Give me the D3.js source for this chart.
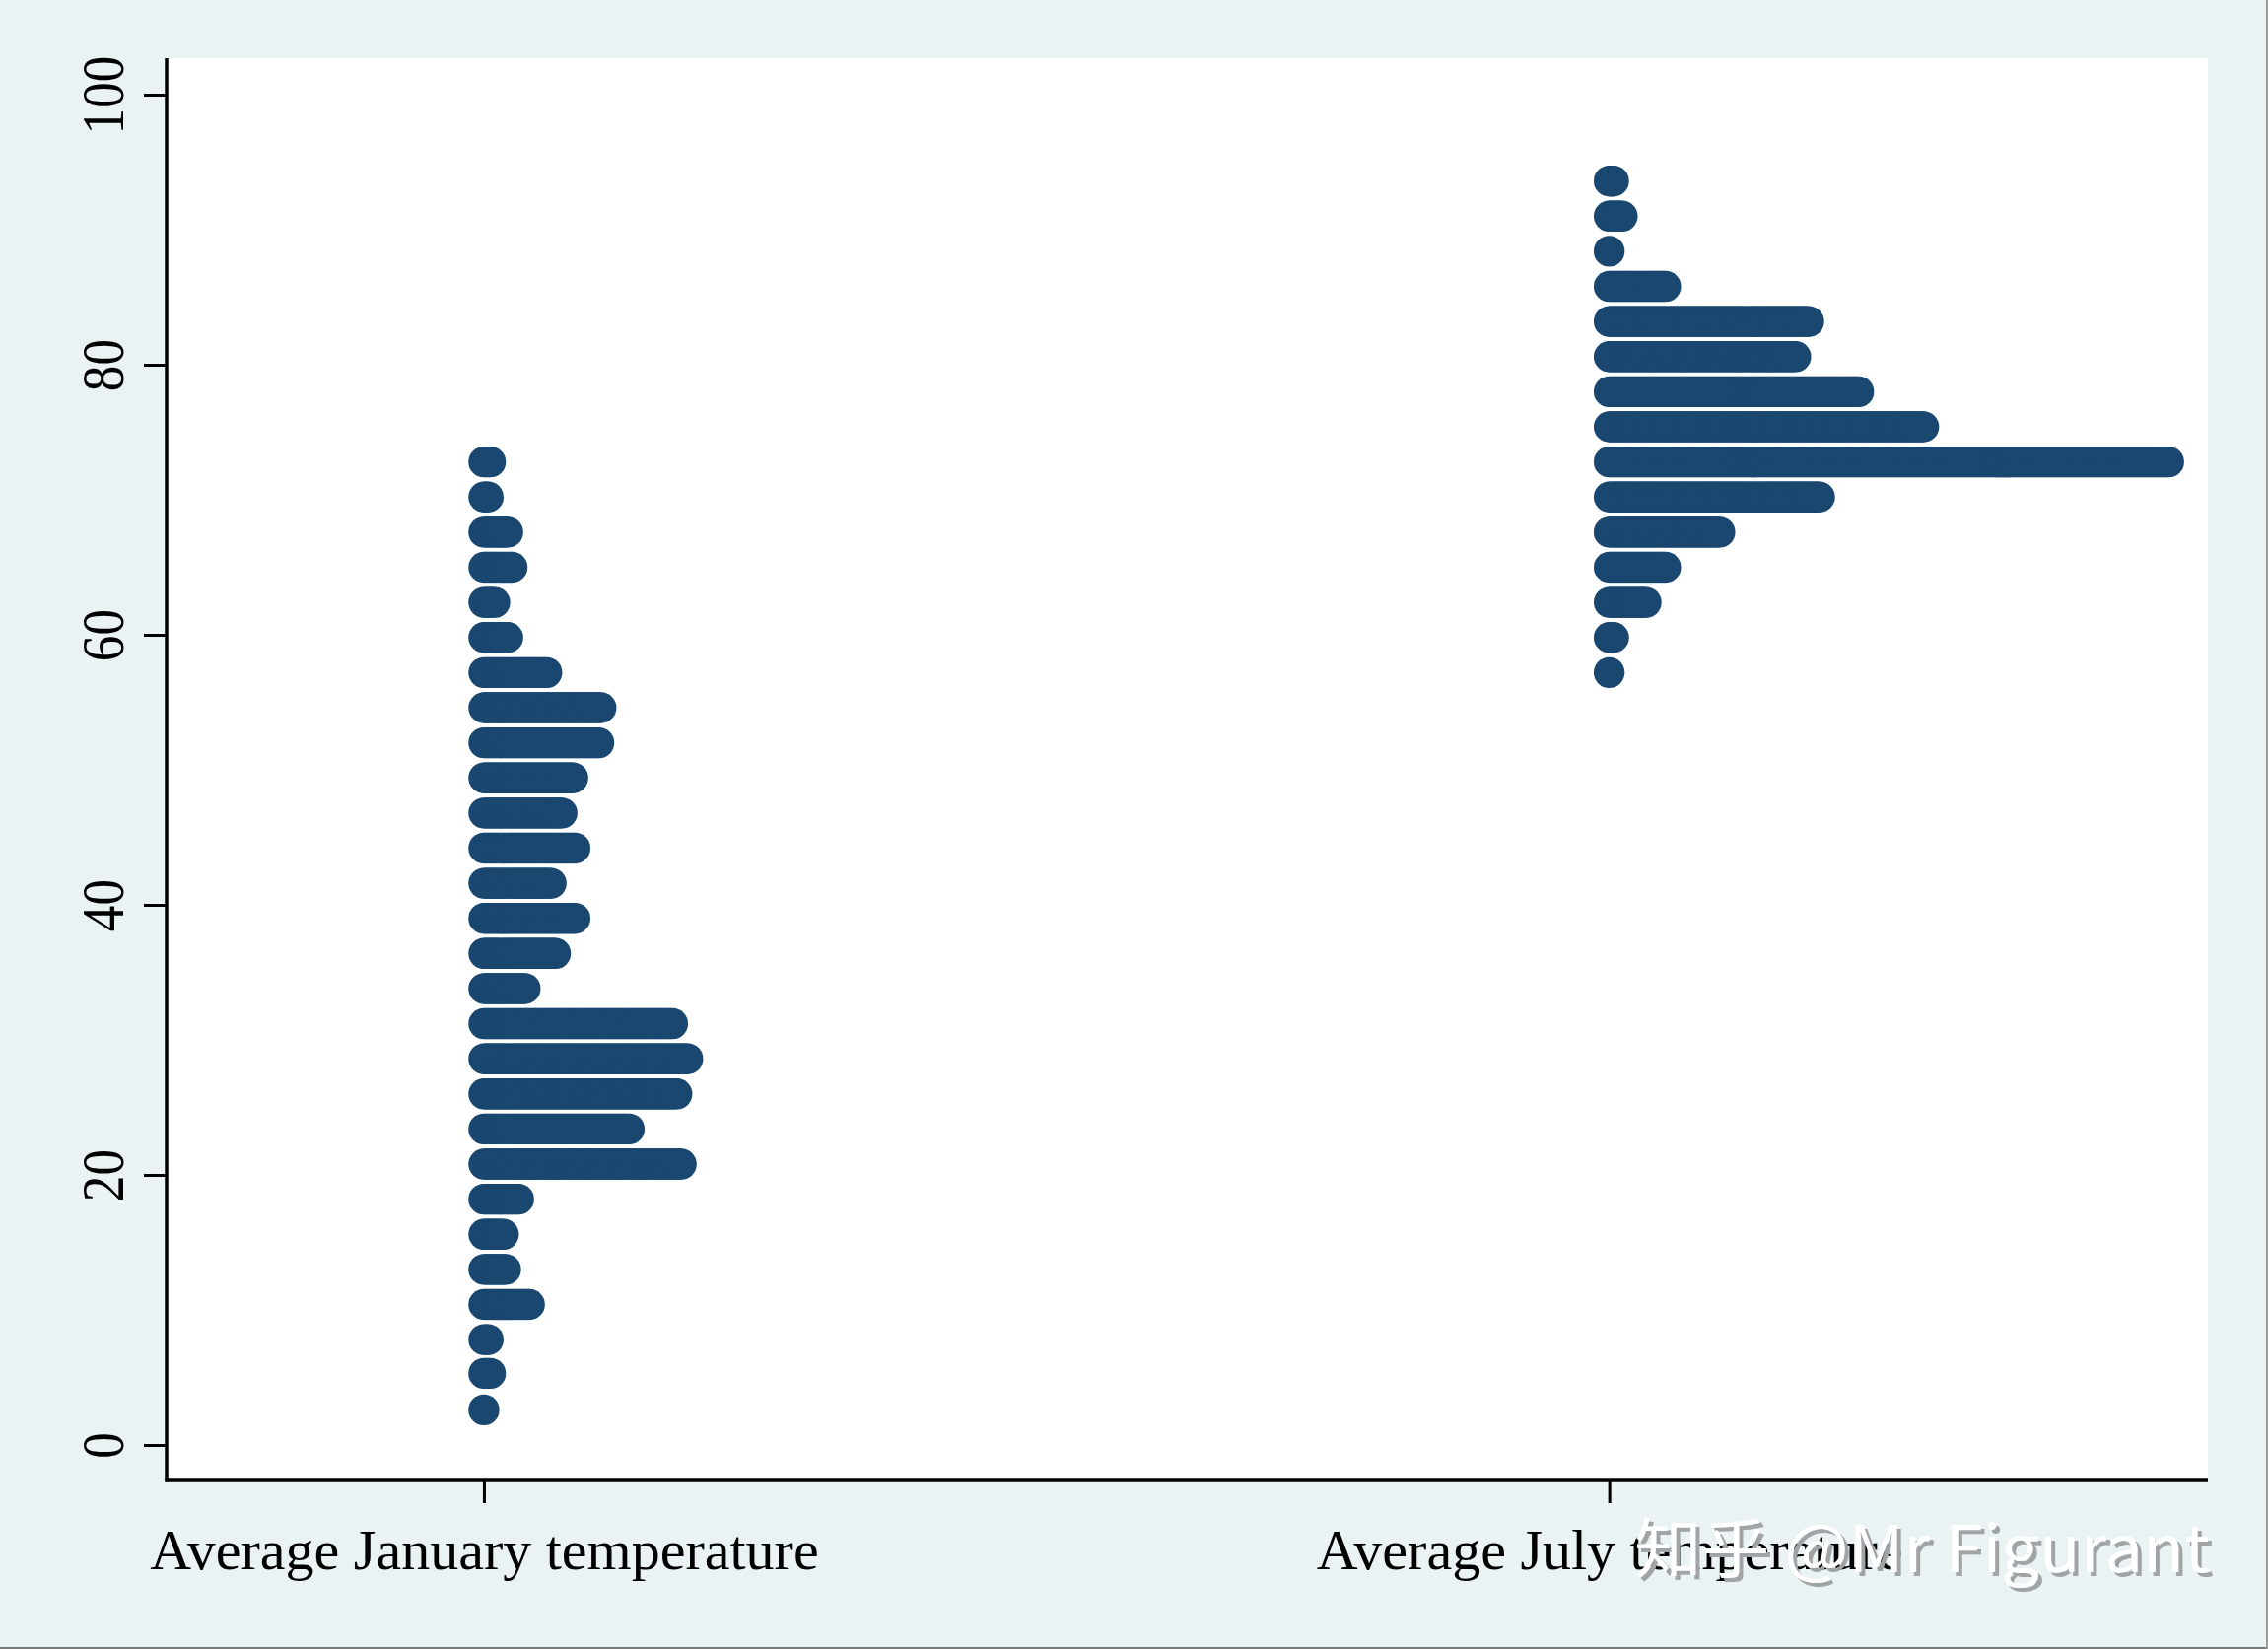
<!DOCTYPE html>
<html>
<head>
<meta charset="utf-8">
<script src="https://cdn.jsdelivr.net/npm/d3@7"></script>
<style>
  html, body { margin: 0; padding: 0; background: #eaf2f3; }
  svg { display: block; }
</style>
</head>
<body>
<div class="chart"></div>
<script>
// dot plot of average January / July temperatures (binned, one dot per city)

var groups = ["Average January temperature", "Average July temperature"];
var yTicks = [0, 20, 40, 60, 80, 100];

// January: bin centres and number of cities in each bin
var janBins = [2.6, 5.3, 7.8, 10.4, 13.0, 15.6, 18.2, 20.8, 23.4, 26.0, 28.6, 31.2, 33.8, 36.4,
               39.0, 41.6, 44.2, 46.8, 49.4, 52.0, 54.6, 57.2, 59.8, 62.4, 65.0, 67.6, 70.2, 72.8];
var janCounts = [1, 4, 3, 22, 11, 10, 17, 92, 68, 90, 95, 88, 20, 34,
                 43, 32, 43, 37, 42, 54, 55, 30, 12, 6, 14, 12, 3, 4];

// July: bin centres and counts
var julBins = [57.2, 59.8, 62.4, 65.0, 67.6, 70.2, 72.8, 75.4, 78.0, 80.6, 83.2, 85.8, 88.4, 91.0, 93.6];
var julCounts = [1, 3, 18, 27, 52, 98, 259, 146, 116, 87, 93, 27, 1, 7, 3];

var W = 2301, H = 1673;
var plot = { left: 169, top: 59, right: 2240, bottom: 1502 };
var dotR = 15.7, dotStep = 2.2;
var navy = "#1a476f";

var svg = d3.select(".chart").append("svg")
    .attr("width", W)
    .attr("height", H);

// graph region + plot region
svg.append("rect").attr("width", W).attr("height", H).attr("fill", "#eaf2f3");
svg.append("rect")
    .attr("x", plot.left).attr("y", plot.top)
    .attr("width", plot.right - plot.left).attr("height", plot.bottom - plot.top)
    .attr("fill", "#ffffff");

var y = d3.scaleLinear().domain([0, 100]).range([1466, 96]);
var x = d3.scaleLinear().domain([0.718, 2.532]).range([plot.left, plot.right]);

// expand bins into individual dots
function dots(bins, counts, g) {
    var out = [];
    bins.forEach(function (b, i) {
        for (var k = 0; k < counts[i]; k++) out.push({ g: g, v: b, k: k });
    });
    return out;
}
var allDots = dots(janBins, janCounts, 1).concat(dots(julBins, julCounts, 2));

svg.append("g").selectAll("circle")
    .data(allDots)
    .enter().append("circle")
    .attr("cx", function (d) { return x(d.g) + d.k * dotStep; })
    .attr("cy", function (d) { return y(d.v); })
    .attr("r", dotR)
    .attr("fill", navy);

// y axis
var yAxis = d3.axisLeft(y).tickValues(yTicks).tickSize(23).tickSizeOuter(0);
var gy = svg.append("g")
    .attr("transform", "translate(" + plot.left + ",0)")
    .call(yAxis);
gy.select(".domain").remove();
gy.selectAll(".tick line").attr("stroke", "#000").attr("stroke-width", 3);
gy.selectAll(".tick text")
    .attr("x", null).attr("dy", null)
    .attr("transform", "translate(-44,0) rotate(-90) scale(0.86,1)")
    .style("text-anchor", "middle")
    .style("font-family", "'Liberation Serif', 'Times New Roman', serif")
    .style("font-size", "62px")
    .attr("fill", "#000");
svg.append("line")
    .attr("x1", plot.left).attr("x2", plot.left)
    .attr("y1", plot.top).attr("y2", plot.bottom + 1.5)
    .attr("stroke", "#000").attr("stroke-width", 3.5);

// x axis
var xAxis = d3.axisBottom(x).tickValues([1, 2])
    .tickFormat(function (d) { return groups[d - 1]; })
    .tickSize(23).tickSizeOuter(0);
var gx = svg.append("g")
    .attr("transform", "translate(0," + plot.bottom + ")")
    .call(xAxis);
gx.select(".domain").remove();
gx.selectAll(".tick line").attr("stroke", "#000").attr("stroke-width", 3);
gx.selectAll(".tick text")
    .attr("y", 90).attr("dy", null)
    .style("text-anchor", "middle")
    .style("font-family", "'Liberation Serif', 'Times New Roman', serif")
    .style("font-size", "58px")
    .attr("fill", "#000");
svg.append("line")
    .attr("x1", plot.left - 1.5).attr("x2", plot.right)
    .attr("y1", plot.bottom).attr("y2", plot.bottom)
    .attr("stroke", "#000").attr("stroke-width", 3.5);

// watermark
var wm = "知乎 @Mr Figurant";
[["#a0a4a6", 4], ["#ffffff", 0]].forEach(function (s) {
    svg.append("text")
        .attr("x", 1658 + s[1]).attr("y", 1595 + s[1])
        .attr("textLength", 584).attr("lengthAdjust", "spacingAndGlyphs")
        .style("font-family", "'Noto Sans CJK SC', 'Noto Sans', sans-serif")
        .style("font-size", "66px")
        .attr("fill", s[0])
        .text(wm);
});

// outer frame edges
svg.append("line").attr("x1", 0).attr("x2", W).attr("y1", H - 1).attr("y2", H - 1)
    .attr("stroke", "#7a7a7a").attr("stroke-width", 2);
svg.append("line").attr("x1", W - 1).attr("x2", W - 1).attr("y1", 0).attr("y2", H)
    .attr("stroke", "#9a9a9a").attr("stroke-width", 2);
</script>
</body>
</html>
